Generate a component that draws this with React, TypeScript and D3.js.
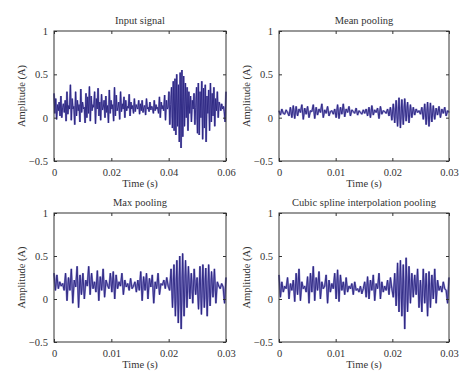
import React, { useEffect, useRef } from 'react';
import { select, scaleLinear, line, axisLeft, axisBottom, axisTop, axisRight } from 'd3';

// Input signal, 0 - 0.06 s
const inputSignal = [
  0.28, 0.05, 0.22, -0.02, 0.15, 0.08, 0.18, 0.02, 0.25, 0.0, 0.12, 0.16, 0.06, 0.2, -0.04, 0.3, 0.04, 0.14, 0.1, 0.38,
  -0.03, 0.22, 0.1, 0.13, -0.08, 0.3, 0.02, 0.2, 0.08, 0.15, -0.05, 0.33, 0.06, 0.18, 0.1, 0.12, -0.06, 0.28, 0.0, 0.24,
  0.05, 0.36, -0.04, 0.25, 0.08, 0.15, 0.12, 0.3, -0.07, 0.22, 0.1, 0.34, 0.02, 0.18, -0.03, 0.27, 0.09, 0.12, 0.2, 0.0,
  0.25, 0.06, 0.14, -0.06, 0.32, 0.05, 0.2, 0.1, 0.15, -0.04, 0.35, 0.02, 0.26, 0.08, 0.12, 0.18, -0.02, 0.3, 0.07, 0.16,
  0.1, 0.24, 0.0, 0.2, 0.08, 0.13, 0.11, 0.27, 0.02, 0.18, 0.1, 0.14, 0.05, 0.22, 0.07, 0.15, 0.12, 0.1, 0.2, 0.04,
  0.16, 0.08, 0.2, 0.06, 0.12, 0.14, 0.03, 0.22, 0.1, 0.12, 0.07, 0.18, 0.09, 0.13, 0.11, 0.05, 0.2, 0.08, 0.15, 0.1,
  0.12, 0.05, 0.24, 0.0, 0.18, 0.1, 0.14, 0.08, 0.26, -0.03, 0.2, 0.1, 0.12, 0.3, -0.08, 0.15, 0.35, -0.12, 0.42, -0.15,
  0.45, -0.2, 0.5, -0.1, 0.38, -0.28, 0.52, -0.35, 0.55, -0.22, 0.48, -0.1, 0.4, 0.0, 0.35, -0.15, 0.3, 0.05, 0.25, -0.05,
  0.2, 0.1, 0.28, -0.08, 0.12, 0.35, -0.18, 0.4, -0.2, 0.3, 0.0, 0.42, -0.25, 0.34, -0.12, 0.38, -0.28, 0.25, 0.05, 0.32,
  -0.15, 0.4, -0.05, 0.28, 0.02, 0.35, -0.1, 0.22, 0.08, 0.3, 0.0, 0.18, 0.14, 0.08, 0.16, 0.1, 0.13, 0.07, -0.05, 0.3,
];

// pooled signals, 0 - 0.03 s
const meanPooling = [
  0.08, 0.03, 0.1, 0.05, 0.04, 0.09, 0.06, 0.02, 0.12, 0.0, 0.14, -0.01, 0.13, 0.02, 0.1, 0.06, 0.15, -0.02, 0.11, 0.04,
  0.13, 0.0, 0.08, 0.07, 0.15, -0.01, 0.12, 0.03, 0.1, 0.06, 0.16, 0.0, 0.09, 0.05, 0.13, 0.02, 0.07, 0.08, 0.04, 0.1,
  0.0, 0.15, -0.01, 0.12, 0.04, 0.16, 0.01, 0.1, 0.06, 0.13, 0.02, 0.09, 0.07, 0.05, 0.11, 0.03, 0.08, 0.06, 0.04, 0.09,
  0.05, 0.1, 0.02, 0.12, 0.0, 0.14, 0.03, 0.09, 0.06, 0.11, -0.01, 0.13, 0.04, 0.08, 0.07, 0.05, 0.1, 0.02, 0.12, -0.03,
  0.16, -0.06, 0.2, -0.1, 0.23, -0.12, 0.21, -0.08, 0.22, -0.04, 0.18, -0.06, 0.15, 0.0, 0.12, 0.03, 0.1, 0.06, 0.08, 0.04,
  0.12, -0.02, 0.16, -0.08, 0.18, -0.1, 0.17, -0.05, 0.14, -0.02, 0.11, 0.03, 0.13, 0.0, 0.1, 0.05, 0.12, 0.02, 0.08, 0.06,
];

const maxPooling = [
  0.3, 0.1, 0.28, 0.12, 0.2, 0.15, 0.18, 0.1, 0.3, -0.02, 0.25, 0.1, 0.35, -0.05, 0.22, 0.14, 0.38, -0.1, 0.28, 0.05,
  0.3, 0.0, 0.22, 0.15, 0.38, 0.05, 0.3, 0.12, 0.2, 0.08, 0.33, -0.02, 0.26, 0.1, 0.35, 0.02, 0.22, 0.16, 0.12, 0.3,
  0.08, 0.32, 0.0, 0.28, 0.12, 0.2, 0.15, 0.3, 0.05, 0.22, 0.14, 0.18, 0.1, 0.24, 0.12, 0.15, 0.2, 0.08, 0.22, 0.1,
  0.32, -0.02, 0.26, 0.1, 0.3, 0.0, 0.24, 0.14, 0.28, -0.05, 0.2, 0.12, 0.3, 0.05, 0.18, 0.16, 0.22, 0.12, 0.25, 0.15,
  0.1, 0.35, -0.1, 0.4, -0.2, 0.45, -0.28, 0.5, -0.35, 0.53, -0.2, 0.45, -0.1, 0.38, 0.0, 0.3, -0.05, 0.35, 0.05, 0.25,
  -0.12, 0.38, -0.18, 0.4, -0.1, 0.36, -0.2, 0.4, -0.08, 0.32, 0.02, 0.35, -0.05, 0.2, 0.15, 0.12, 0.18, 0.14, -0.05, 0.25,
];

const cubicPooling = [
  0.28, 0.02, 0.2, 0.08, 0.15, 0.12, 0.25, 0.0, 0.18, 0.1, 0.22, -0.03, 0.3, 0.05, 0.35, -0.02, 0.2, 0.12, 0.15, 0.08,
  0.26, -0.05, 0.3, 0.08, 0.38, -0.02, 0.25, 0.1, 0.32, 0.0, 0.2, 0.12, 0.15, 0.28, -0.05, 0.22, 0.08, 0.18, 0.12, 0.3,
  0.0, 0.34, -0.03, 0.28, 0.1, 0.2, 0.05, 0.25, 0.08, 0.15, 0.12, 0.18, 0.05, 0.2, 0.1, 0.12, 0.08, 0.15, 0.06, 0.12,
  0.2, 0.02, 0.26, 0.0, 0.22, 0.1, 0.28, -0.02, 0.18, 0.12, 0.3, 0.0, 0.2, 0.08, 0.15, 0.1, 0.22, 0.05, 0.25, 0.12,
  0.02, 0.3, -0.08, 0.42, -0.15, 0.45, -0.2, 0.4, -0.35, 0.48, -0.15, 0.38, -0.05, 0.3, 0.02, 0.28, 0.05, 0.35, -0.1, 0.22,
  -0.15, 0.35, -0.05, 0.3, -0.2, 0.32, -0.1, 0.28, 0.0, 0.35, -0.05, 0.22, 0.1, 0.15, 0.08, 0.2, 0.12, 0.1, -0.05, 0.25,
];

const yTicks = [-0.5, 0, 0.5, 1];
const xTicksLong = [0, 0.02, 0.04, 0.06];
const xTicksShort = [0, 0.01, 0.02, 0.03];

const panels = [
  { title: 'Input signal', data: inputSignal, tEnd: 0.06, xTicks: xTicksLong, left: 54, right: 226, top: 31, bottom: 161 },
  { title: 'Mean pooling', data: meanPooling, tEnd: 0.03, xTicks: xTicksShort, left: 279, right: 449, top: 31, bottom: 161 },
  { title: 'Max pooling', data: maxPooling, tEnd: 0.03, xTicks: xTicksShort, left: 54, right: 226, top: 213, bottom: 342 },
  { title: 'Cubic spline interpolation pooling', data: cubicPooling, tEnd: 0.03, xTicks: xTicksShort, left: 279, right: 449, top: 213, bottom: 342 },
];

const FONT = '"Liberation Serif", "DejaVu Serif", serif';
const fmt = (d: number) => (d < 0 ? '\u2212' + Math.abs(d) : String(d));

export default function App() {
  const ref = useRef<SVGSVGElement>(null);

  useEffect(() => {
    const svg = select(ref.current);
    svg.selectAll('*').remove();

    panels.forEach(p => {
      const w = p.right - p.left;
      const h = p.bottom - p.top;
      const x = scaleLinear().domain([0, p.tEnd]).range([0, w]);
      const y = scaleLinear().domain([-0.5, 1]).range([h, 0]);
      const dt = p.tEnd / (p.data.length - 1);

      const g = svg.append('g').attr('transform', `translate(${p.left},${p.top})`);

      g.append('rect')
        .attr('width', w)
        .attr('height', h)
        .attr('fill', 'white');

      // signal: lighter wide pass underneath + dark thin pass on top
      const sig = line<number>().x((d, i) => x(i * dt)).y(d => y(d));
      g.append('path')
        .datum(p.data)
        .attr('fill', 'none')
        .attr('stroke', '#8e88cc')
        .attr('stroke-width', 2)
        .attr('stroke-linejoin', 'bevel')
        .attr('d', sig);
      g.append('path')
        .datum(p.data)
        .attr('fill', 'none')
        .attr('stroke', '#2a2580')
        .attr('stroke-width', 0.9)
        .attr('d', sig);

      const left = g.append('g').call(axisLeft(y).tickValues(yTicks).tickFormat(fmt as any).tickSizeInner(-3).tickSizeOuter(0).tickPadding(6));
      const bottom = g.append('g').attr('transform', `translate(0,${h})`)
        .call(axisBottom(x).tickValues(p.xTicks).tickFormat(String as any).tickSizeInner(-3).tickSizeOuter(0).tickPadding(8));
      const top = g.append('g').call(axisTop(x).tickValues(p.xTicks).tickFormat(() => '').tickSizeInner(-3).tickSizeOuter(0));
      const right = g.append('g').attr('transform', `translate(${w},0)`)
        .call(axisRight(y).tickValues(yTicks).tickFormat(() => '').tickSizeInner(-3).tickSizeOuter(0));

      [left, bottom, top, right].forEach(a => {
        a.select('.domain').remove();
        a.selectAll('line').attr('stroke', '#333');
        a.selectAll('text').attr('font-family', FONT).attr('font-size', 10.5).attr('fill', '#333');
      });

      g.append('rect')
        .attr('width', w)
        .attr('height', h)
        .attr('fill', 'none')
        .attr('stroke', '#333')
        .attr('stroke-width', 1);

      g.append('text')
        .attr('x', w / 2)
        .attr('y', -7)
        .attr('text-anchor', 'middle')
        .attr('font-family', FONT)
        .attr('font-size', 10.5)
        .attr('fill', '#333')
        .text(p.title);

      g.append('text')
        .attr('x', w / 2)
        .attr('y', h + 26)
        .attr('text-anchor', 'middle')
        .attr('font-family', FONT)
        .attr('font-size', 10.5)
        .attr('fill', '#333')
        .text('Time (s)');

      g.append('text')
        .attr('transform', `translate(${-29},${h / 2}) rotate(-90)`)
        .attr('text-anchor', 'middle')
        .attr('font-family', FONT)
        .attr('font-size', 10.5)
        .attr('fill', '#333')
        .text('Amplitude (A)');
    });
  }, []);

  return (
    <svg ref={ref} width="474" height="387" style={{ position: 'absolute', left: 0, top: 0, background: 'white' }}></svg>
  );
}
